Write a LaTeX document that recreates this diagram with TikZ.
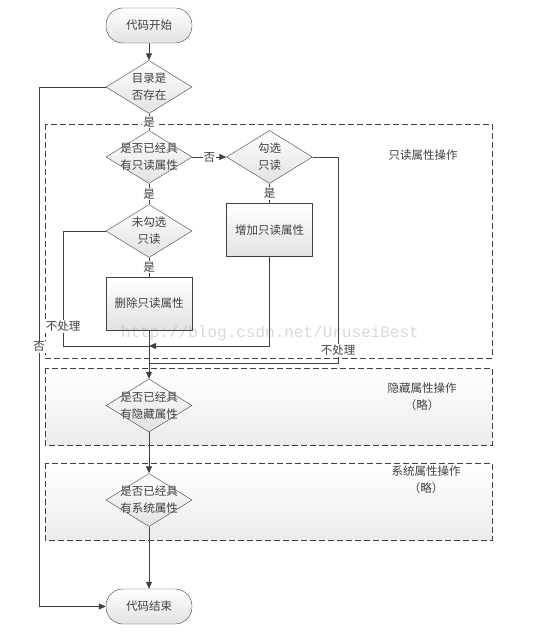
\documentclass[tikz,border=0pt]{standalone}
\usepackage{fontspec}
\newfontfamily\cjk{Noto Sans CJK SC}
\newfontfamily\wmfont{Liberation Mono}
\usetikzlibrary{arrows.meta,shapes.geometric}

\definecolor{linegray}{HTML}{404040}
\definecolor{shadegray}{HTML}{E2E2E2}
\definecolor{groupgray}{HTML}{ECECEC}

\tikzset{
    txt/.style={font={\cjk\fontsize{11.5}{17}\selectfont}, text=linegray, align=center},
    base/.style={draw=linegray, top color=white, bottom color=shadegray, txt},
    terminal/.style={base, rounded corners=17pt, minimum width=86pt, minimum height=35pt, inner sep=0pt},
    process/.style={base, rectangle, minimum width=86pt, minimum height=53pt, inner sep=0pt},
    decision/.style={base, diamond, minimum width=86pt, minimum height=53pt, inner sep=0pt,
        label={[txt]center:#1}},
    lbl/.style={txt, fill=white, inner sep=1pt},
    line/.style={draw=linegray, line width=0.8pt},
    arrow/.style={line, -{Triangle[length=7pt,width=6pt]}},
    group/.style={draw=linegray, line width=0.7pt, dash pattern=on 6pt off 3pt}
}

\begin{document}
\begin{tikzpicture}[x=1pt, y=-1pt]
    \useasboundingbox (0,0) rectangle (533,644);
    \fill[white] (0,0) rectangle (533,644);

    % groups
    \draw[group, fill=white] (45,124) rectangle (492,358);
    \draw[group, top color=white, bottom color=groupgray] (45,368) rectangle (492,445);
    \draw[group, top color=white, bottom color=groupgray] (45,463) rectangle (492,540);
    \node[txt] (ronote) at (423,155) {只读属性操作};
    \node[txt] (hidnote) at (422,397) {隐藏属性操作\\（略）};
    \node[txt] (sysnote) at (426,480) {系统属性操作\\（略）};

    % flow
    \node[terminal] (start) at (149,25.5) {代码开始};
    \node[decision={目录是\\否存在}] (dir) at (149,87) {};
    \node[decision={是否已经具\\有只读属性}] (ro) at (149,157) {};
    \node[decision={勾选\\只读}] (chk) at (269.5,157) {};
    \node[process] (add) at (269.5,230) {增加只读属性};
    \node[decision={未勾选\\只读}] (unchk) at (149,231) {};
    \node[process] (del) at (149,303.5) {删除只读属性};
    \node[decision={是否已经具\\有隐藏属性}] (hid) at (149,405.5) {};
    \node[decision={是否已经具\\有系统属性}] (sys) at (149,500) {};
    \node[terminal] (end) at (149,606.5) {代码结束};

    \coordinate (joinA) at (149,346);
    \coordinate (joinB) at (149,363);

    \draw[arrow] (start) -- (dir);
    \draw[arrow] (dir.west) -- (39,87) -- node[lbl] {否} (39,606.5) -- (end.west);
    \draw[line] (dir.south) -- node[lbl] {是} (ro.north);
    \draw[arrow] (ro.east) -- node[lbl] {否} (chk.west);
    \draw[line] (chk.east) -- (338,157) -- node[lbl, pos=0.94] {不处理} (338,363) -- (joinB);
    \draw[line] (chk.south) -- node[lbl] {是} (add.north);
    \draw[arrow] (add.south) -- (269.5,346) -- (joinA);
    \draw[line] (ro.south) -- node[lbl] {是} (unchk.north);
    \draw[line] (unchk.west) -- (63,231) -- node[lbl, pos=0.83] {不处理} (63,346) -- (joinA);
    \draw[line] (unchk.south) -- node[lbl] {是} (del.north);
    \draw[arrow] (del.south) -- (hid.north);
    \draw[arrow] (hid.south) -- (sys.north);
    \draw[arrow] (sys.south) -- (end.north);

    % watermark
    \node[font={\wmfont\fontsize{16}{16}\selectfont}, text=gray, opacity=0.3] (mark) at (270,333) {http://blog.csdn.net/UruseiBest};
\end{tikzpicture}
\end{document}
